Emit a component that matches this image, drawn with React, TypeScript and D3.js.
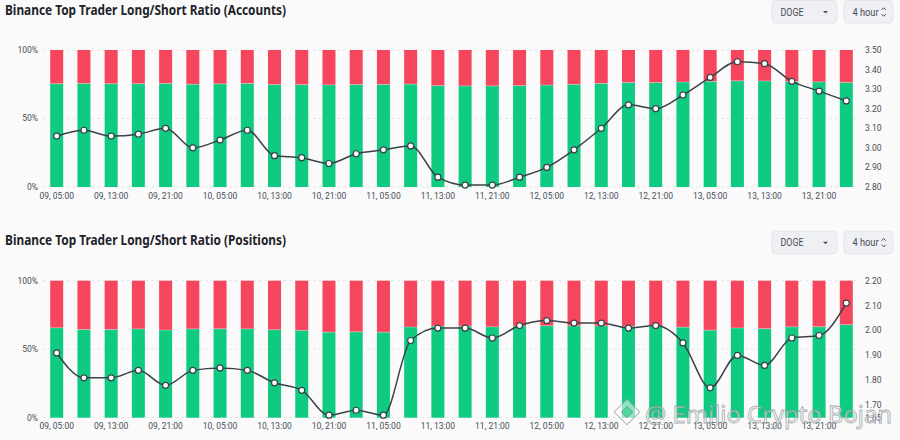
import * as d3 from "d3";

// 4-hour buckets, 09 05:00 -> 14 01:00
const times = [
  "09, 05:00", "09, 09:00", "09, 13:00", "09, 17:00", "09, 21:00",
  "10, 01:00", "10, 05:00", "10, 09:00", "10, 13:00", "10, 17:00", "10, 21:00",
  "11, 01:00", "11, 05:00", "11, 09:00", "11, 13:00", "11, 17:00", "11, 21:00",
  "12, 01:00", "12, 05:00", "12, 09:00", "12, 13:00", "12, 17:00", "12, 21:00",
  "13, 01:00", "13, 05:00", "13, 09:00", "13, 13:00", "13, 17:00", "13, 21:00",
  "14, 01:00",
];

// long account share (%) and long/short ratio — Accounts
const accLong = [
  75.4, 75.6, 75.4, 75.4, 75.6, 75.0, 75.3, 75.6, 74.8, 74.7,
  74.5, 74.8, 74.9, 75.1, 74.0, 73.8, 73.8, 74.0, 74.4, 74.9,
  75.6, 76.3, 76.2, 76.6, 77.1, 77.5, 77.4, 77.0, 76.7, 76.4,
];
const accRatio = [
  3.06, 3.09, 3.06, 3.07, 3.10, 3.0, 3.04, 3.09, 2.96, 2.95,
  2.92, 2.97, 2.99, 3.01, 2.85, 2.81, 2.81, 2.85, 2.9, 2.99,
  3.10, 3.22, 3.20, 3.27, 3.36, 3.44, 3.43, 3.34, 3.29, 3.24,
];
const accTicks = [2.8, 2.9, 3.0, 3.1, 3.2, 3.3, 3.4, 3.5];

// long position share (%) and long/short ratio — Positions
const posLong = [
  65.6, 64.4, 64.4, 64.8, 64.0, 64.8, 64.9, 64.8, 64.2, 63.8,
  62.4, 62.7, 62.4, 66.2, 66.8, 66.8, 66.3, 66.9, 67.1, 67.0,
  67.0, 66.8, 66.9, 66.1, 63.9, 65.5, 65.0, 66.3, 66.4, 67.9,
];
const posRatio = [
  1.91, 1.81, 1.81, 1.84, 1.78, 1.84, 1.85, 1.84, 1.79, 1.76,
  1.66, 1.68, 1.66, 1.96, 2.01, 2.01, 1.97, 2.02, 2.04, 2.03,
  2.03, 2.01, 2.02, 1.95, 1.77, 1.90, 1.86, 1.97, 1.98, 2.11,
];
const posTicks = [1.65, 1.7, 1.8, 1.9, 2.0, 2.1, 2.2];

const pctTicks = [0, 50, 100];

const GREEN = "#0ecb81";
const RED = "#f6465d";
const INK = "#474d57";

function Select({
  x,
  w,
  label,
  labelW,
  chevrons,
}: {
  x: number;
  w: number;
  label: string;
  labelW: number;
  chevrons?: boolean;
}) {
  return (
    <g>
      <rect x={x} y={0.5} width={w} height={22.5} rx={4} fill="#eef0f3" stroke="#e2e5e9" />
      <text
        x={x + 8.5}
        y={15.5}
        fontSize={10.5}
        fill={INK}
        fontFamily="Roboto, sans-serif"
        textLength={labelW}
        lengthAdjust="spacingAndGlyphs"
      >
        {label}
      </text>
      {chevrons ? (
        <path
          d={`M${x + 37.5},10 l2.2,-2.2 l2.2,2.2 M${x + 37.5},14 l2.2,2.2 l2.2,-2.2`}
          fill="none"
          stroke={INK}
          strokeWidth={1}
        />
      ) : (
        <path d={`M${x + 51},11 l5,0 l-2.5,2.5 z`} fill={INK} />
      )}
    </g>
  );
}

function Panel({
  dy,
  title,
  long,
  ratio,
  rDomain,
  rTicks,
}: {
  dy: number;
  title: string;
  long: number[];
  ratio: number[];
  rDomain: [number, number];
  rTicks: number[];
}) {
  const top = 50;
  const bottom = 187;
  const x = d3
    .scalePoint<string>()
    .domain(times)
    .range([56.7, 846.3]);
  const y = d3.scaleLinear().domain([0, 100]).range([bottom, top]);
  const yr = d3.scaleLinear().domain(rDomain).range([bottom, top]);
  const bw = 13;
  const line = d3
    .line<number>()
    .x((_, i) => x(times[i]) as number)
    .y(d => yr(d))
    .curve(d3.curveMonotoneX);

  return (
    <g transform={`translate(0,${dy})`}>
      <text
        x={5}
        y={14.5}
        fontSize={13.5}
        fontWeight={700}
        fill="#1e2329"
        fontFamily="'Noto Sans', 'Open Sans', sans-serif"
        textLength={281}
        lengthAdjust="spacingAndGlyphs"
      >
        {title}
      </text>
      <Select x={772} w={65} label="DOGE" labelW={23} />
      <Select x={844} w={49} label="4 hour" labelW={26} chevrons />

      {pctTicks.map(t => (
        <g key={t}>
          <line x1={43} x2={860} y1={y(t)} y2={y(t)} stroke="#e4e6e9" strokeDasharray="3,3" />
          <text
            x={38}
            y={y(t)}
            dy="0.35em"
            textAnchor="end"
            fontSize={8.5}
            fill={INK}
            fontFamily="Roboto, sans-serif"
          >
            {t}%
          </text>
        </g>
      ))}

      {rTicks.map(t => (
        <text
          key={t}
          x={865}
          y={yr(t)}
          dy="0.35em"
          fontSize={8.5}
          fill={INK}
          fontFamily="Roboto, sans-serif"
        >
          {t.toFixed(2)}
        </text>
      ))}

      {times.map((t, i) => (
        <g key={t}>
          <rect
            x={(x(t) as number) - bw / 2}
            y={y(long[i])}
            width={bw}
            height={y(0) - y(long[i])}
            fill={GREEN}
          />
          <rect
            x={(x(t) as number) - bw / 2}
            y={y(100)}
            width={bw}
            height={y(long[i]) - y(100)}
            fill={RED}
          />
          <line
            x1={(x(t) as number) - bw / 2}
            x2={(x(t) as number) + bw / 2}
            y1={y(long[i])}
            y2={y(long[i])}
            stroke="#ffffff"
            strokeOpacity={0.5}
            strokeWidth={0.6}
          />
        </g>
      ))}

      {times.map((t, i) =>
        i % 2 === 0 ? (
          <text
            key={t}
            x={x(t)}
            y={198.5}
            textAnchor="middle"
            fontSize={8.5}
            fill={INK}
            fontFamily="Roboto, sans-serif"
          >
            {t}
          </text>
        ) : null
      )}

      <path d={line(ratio) ?? undefined} fill="none" stroke="#3c4048" strokeWidth={1.5} />
      {ratio.map((d, i) => (
        <circle
          key={i}
          cx={x(times[i])}
          cy={yr(d)}
          r={3}
          fill="#ffffff"
          stroke="#3c4048"
          strokeWidth={1.2}
        />
      ))}
    </g>
  );
}

function Watermark() {
  return (
    <g opacity={0.75}>
      <g transform="translate(627,412) rotate(45)" fill="none" stroke="#9aa0a6" strokeWidth={1}>
        <rect x={-9} y={-9} width={18} height={18} fill="#ffffff" fillOpacity={0.7} />
        <rect x={-4} y={-4} width={8} height={8} fill={GREEN} fillOpacity={0.5} />
      </g>
      <text
        x={645}
        y={423}
        fontSize={23}
        fill="#ffffff"
        fillOpacity={0.7}
        stroke="#8a9097"
        strokeWidth={0.8}
        fontFamily="'Noto Sans', 'Open Sans', sans-serif"
        textLength={247}
        lengthAdjust="spacingAndGlyphs"
      >
        @ Emilio Crypto Bojan
      </text>
    </g>
  );
}

export default function App() {
  return (
    <div style={{ position: "fixed", left: 0, top: 0 }}>
      <svg width={900} height={440} style={{ display: "block", background: "#fafafa" }}>
        <Panel
          dy={0}
          title="Binance Top Trader Long/Short Ratio (Accounts)"
          long={accLong}
          ratio={accRatio}
          rDomain={[2.8, 3.5]}
          rTicks={accTicks}
        />
        <Panel
          dy={230.7}
          title="Binance Top Trader Long/Short Ratio (Positions)"
          long={posLong}
          ratio={posRatio}
          rDomain={[1.65, 2.2]}
          rTicks={posTicks}
        />
        <Watermark />
      </svg>
    </div>
  );
}
